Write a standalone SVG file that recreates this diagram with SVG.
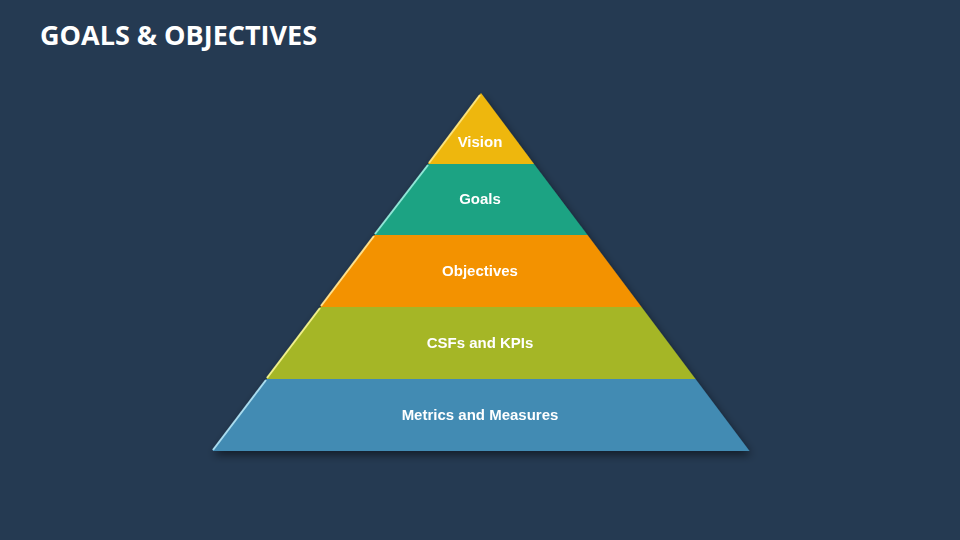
<svg xmlns="http://www.w3.org/2000/svg" width="960" height="540" viewBox="0 0 960 540">
<defs>
<style>
.lbl{font-family:"Liberation Sans",Arial,sans-serif;font-weight:bold;font-size:15px;fill:#fff;text-anchor:middle}
.hl{stroke-width:2;fill:none}
</style>
<filter id="sh" x="-10%" y="-10%" width="120%" height="130%">
<feDropShadow dx="2" dy="4" stdDeviation="4" flood-color="#000" flood-opacity="0.5"/>
</filter>
</defs>
<rect width="960" height="540" fill="#253A52"/>
<text x="40" y="45" font-family="'Open Sans','Liberation Sans',sans-serif" font-weight="bold" font-size="27" fill="#fff">GOALS &amp; OBJECTIVES</text>
<g filter="url(#sh)">
<g id="vision"><polygon points="481,93 534,164 428,164" fill="#EEB711"/><line class="hl" x1="480" y1="95" x2="429" y2="163" stroke="#FBE27A"/><text class="lbl" x="480" y="147">Vision</text></g>
<g id="goals"><polygon points="428,164 534,164 587.5,235 374.5,235" fill="#1FA383"/><line class="hl" x1="428" y1="165" x2="375" y2="234" stroke="#8FE6D6"/><text class="lbl" x="480" y="204">Goals</text></g>
<g id="objectives"><polygon points="374.5,235 587.5,235 641.5,307 320.5,307" fill="#F39200"/><line class="hl" x1="374" y1="236" x2="321" y2="306" stroke="#FFE08A"/><text class="lbl" x="480" y="276">Objectives</text></g>
<g id="csfs"><polygon points="320.5,307 641.5,307 695.5,379 266.5,379" fill="#A5B627"/><line class="hl" x1="320" y1="308" x2="267" y2="378" stroke="#F0F08A"/><text class="lbl" x="480" y="348">CSFs and KPIs</text></g>
<g id="metrics"><polygon points="266.5,379 695.5,379 749.5,451 212.5,451" fill="#428BB3"/><line class="hl" x1="266" y1="380" x2="213" y2="450" stroke="#A9DCEF"/><text class="lbl" x="480" y="420">Metrics and Measures</text></g>
</g>
<g id="connectors"/>
</svg>
